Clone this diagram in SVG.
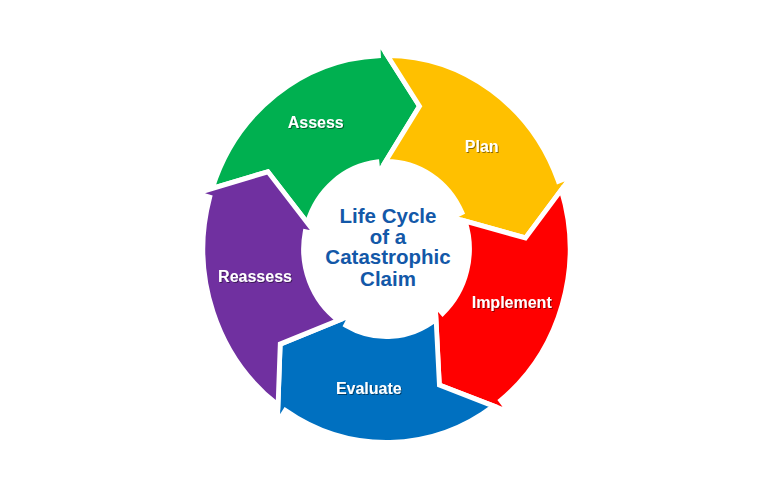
<svg xmlns="http://www.w3.org/2000/svg" xmlns:xlink="http://www.w3.org/1999/xlink" width="768" height="493" viewBox="0 0 768 493">
  <style>
    .arrow { stroke: #ffffff; stroke-width: 5; stroke-linejoin: miter; vector-effect: non-scaling-stroke; }
    .label { font-family: "Liberation Sans", Arial, sans-serif; font-weight: bold; font-size: 16px; fill: #ffffff; text-anchor: middle; filter: url(#shadow); }
    .title { font-family: "Liberation Sans", Arial, sans-serif; font-weight: bold; font-size: 20.5px; fill: #1358A8; text-anchor: middle; }
  </style>
  <defs>
    <filter id="shadow" x="-20%" y="-40%" width="140%" height="180%">
      <feDropShadow dx="1" dy="1" stdDeviation="0.7" flood-color="#000000" flood-opacity="0.45"/>
    </filter>
    <path id="arrowShape" d="M 15.36,-192.90 A 193.5 193.5 0 0 1 185.82,-53.98 L 200.22,-58.17 L 147,0 L 71.28,-26.37 L 82.07,-30.36 A 87.5 87.5 0 0 0 5.56,-87.36 L 45.43,-139.81 Z"/>
  </defs>
  <rect width="768" height="493" fill="#ffffff"/>
  <g id="connectors"></g>
  <g transform="translate(386.5,249) scale(0.948,1)">
    <g id="assess-arrow"><use xlink:href="#arrowShape" href="#arrowShape" class="arrow" fill="#00B050" transform="rotate(283.7)"/></g>
    <g id="plan-arrow"><use xlink:href="#arrowShape" href="#arrowShape" class="arrow" fill="#FFC000" transform="rotate(-4.3)"/></g>
    <g id="implement-arrow"><use xlink:href="#arrowShape" href="#arrowShape" class="arrow" fill="#FF0000" transform="rotate(67.7)"/></g>
    <g id="evaluate-arrow"><use xlink:href="#arrowShape" href="#arrowShape" class="arrow" fill="#0070C0" transform="rotate(139.7)"/></g>
    <g id="reassess-arrow"><use xlink:href="#arrowShape" href="#arrowShape" class="arrow" fill="#7030A0" transform="rotate(211.7)"/></g>
  </g>
  <g id="assess"><text class="label" x="315.7" y="128.3">Assess</text></g>
  <g id="plan"><text class="label" x="481.7" y="151.7">Plan</text></g>
  <g id="implement"><text class="label" x="511.7" y="308.3">Implement</text></g>
  <g id="evaluate"><text class="label" x="368.8" y="394">Evaluate</text></g>
  <g id="reassess"><text class="label" x="255" y="281.7">Reassess</text></g>
  <g id="center">
    <text class="title"><tspan x="388" y="223.3">Life Cycle</tspan><tspan x="388" y="243.5">of a</tspan><tspan x="388" y="264.3">Catastrophic</tspan><tspan x="388" y="285.7">Claim</tspan></text>
  </g>
</svg>
